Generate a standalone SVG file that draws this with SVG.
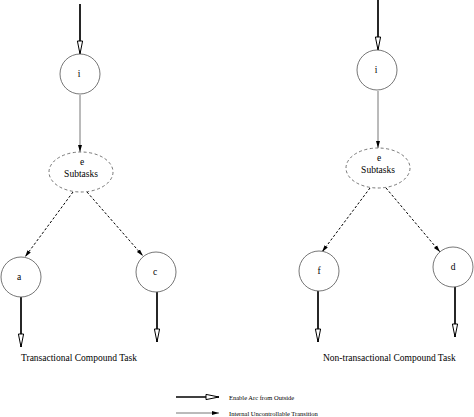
<svg xmlns="http://www.w3.org/2000/svg" width="474" height="417" viewBox="0 0 474 417">
<style>
.node{fill:#fff;stroke:#666;stroke-width:0.9}
.sub{fill:#fff;stroke:#666;stroke-width:0.9;stroke-dasharray:3,2.5}
.lbl{font-family:"Liberation Serif","Times New Roman",serif;font-size:9.5px;fill:#000;text-anchor:middle}
.cap{font-family:"Liberation Serif","Times New Roman",serif;font-size:9.5px;fill:#000}
.leg{font-family:"Liberation Serif","Times New Roman",serif;font-size:6.5px;fill:#000}
.enable{stroke:#000;stroke-width:1.7;fill:none;marker-end:url(#open)}
.internal{stroke:#666;stroke-width:0.9;fill:none;marker-end:url(#filled)}
.dash{stroke:#000;stroke-width:1;stroke-dasharray:2.5,2;fill:none;marker-end:url(#filled)}
</style>
<defs>
<marker id="open" markerUnits="userSpaceOnUse" viewBox="-1 -4 16 8" refX="13" refY="0" markerWidth="16" markerHeight="8" orient="auto">
<path d="M0,-2.6 L13,0 L0,2.6 Z" fill="#fff" stroke="#000" stroke-width="1"/>
</marker>
<marker id="filled" markerUnits="userSpaceOnUse" viewBox="0 -3 7 6" refX="7" refY="0" markerWidth="7" markerHeight="6" orient="auto">
<path d="M0,-2 L7,0 L0,2 Z" fill="#000"/>
</marker>
</defs>
<g id="connectors">
<line class="enable" x1="80" y1="4" x2="80" y2="54"/>
<line class="internal" x1="80" y1="95" x2="80" y2="152"/>
<line class="dash" x1="73" y1="192" x2="25" y2="257"/>
<line class="dash" x1="87" y1="192" x2="143" y2="256"/>
<line class="enable" x1="21" y1="297" x2="21" y2="347"/>
<line class="enable" x1="157" y1="292" x2="157" y2="342"/>
<line class="enable" x1="378" y1="0" x2="378" y2="50"/>
<line class="internal" x1="378" y1="91" x2="378" y2="148"/>
<line class="dash" x1="370" y1="188" x2="322" y2="252"/>
<line class="dash" x1="386" y1="188" x2="440" y2="252"/>
<line class="enable" x1="318" y1="291" x2="318" y2="342"/>
<line class="enable" x1="455" y1="287" x2="455" y2="337"/>
<line class="enable" x1="176" y1="397" x2="219" y2="397"/>
<line class="internal" x1="176" y1="413" x2="219" y2="413"/>
</g>
<g id="left-i"><circle class="node" cx="80" cy="74" r="20"/><text class="lbl" x="79" y="77">i</text></g>
<g id="left-e"><ellipse class="sub" cx="81" cy="172" rx="32" ry="20"/><text class="lbl" x="82" y="165">e</text><text class="lbl" x="81" y="176.5">Subtasks</text></g>
<g id="left-a"><circle class="node" cx="21" cy="277" r="20"/><text class="lbl" x="19" y="280">a</text></g>
<g id="left-c"><circle class="node" cx="156" cy="272" r="20"/><text class="lbl" x="155" y="275">c</text></g>
<g id="right-i"><circle class="node" cx="377" cy="70" r="20"/><text class="lbl" x="376" y="73">i</text></g>
<g id="right-e"><ellipse class="sub" cx="378" cy="168" rx="32" ry="20"/><text class="lbl" x="379" y="161">e</text><text class="lbl" x="378" y="172.5">Subtasks</text></g>
<g id="right-f"><circle class="node" cx="319" cy="271" r="20"/><text class="lbl" x="319" y="274">f</text></g>
<g id="right-d"><circle class="node" cx="453" cy="267" r="20"/><text class="lbl" x="453" y="270">d</text></g>
<g id="captions">
<text class="cap" x="21" y="361">Transactional Compound Task</text>
<text class="cap" x="323" y="361">Non-transactional Compound Task</text>
</g>
<g id="legend">
<text class="leg" x="229" y="400">Enable Arc from Outside</text>
<text class="leg" x="229" y="416">Internal Uncontrollable Transition</text>
</g>
</svg>
